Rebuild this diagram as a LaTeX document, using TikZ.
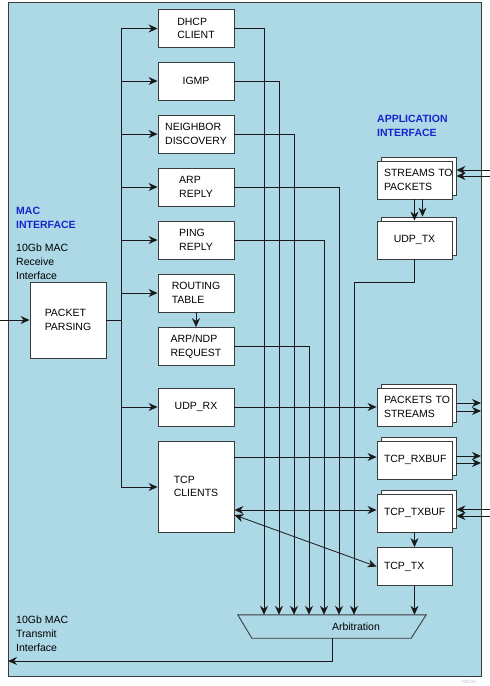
\documentclass[tikz,border=0pt]{standalone}
\usepackage{fontspec}
\setmainfont{Liberation Sans}
\usetikzlibrary{arrows.meta,shadows,calc}
\definecolor{bg}{RGB}{173,216,230}
\definecolor{bordcol}{RGB}{60,60,60}
\definecolor{linecol}{RGB}{25,25,25}
\definecolor{hdrblue}{RGB}{25,35,205}
\definecolor{tagcol}{RGB}{185,195,200}
\begin{document}
\begin{tikzpicture}[x=1pt,y=-1pt,
  font=\fontsize{10.5}{13.5}\selectfont,
  box/.style={draw=bordcol, fill=white, line width=0.9pt, minimum width=76pt, minimum height=38pt, align=left, inner sep=2pt},
  rbox/.style={draw=bordcol, fill=white, line width=0.9pt, minimum width=75pt, minimum height=38pt, text width=61pt, inner xsep=7pt, inner ysep=2pt, align=left},
  stack/.style={copy shadow={shadow xshift=4pt, shadow yshift=4pt, fill=white, draw=bordcol}},
  arr/.style={draw=linecol, line width=0.8pt, -{Stealth[length=9pt,width=8pt,inset=3pt]}},
  dblarr/.style={draw=linecol, line width=0.8pt, {Stealth[length=9pt,width=8pt,inset=3pt]}-{Stealth[length=9pt,width=8pt,inset=3pt]}},
  wire/.style={draw=linecol, line width=0.8pt},
  hdr/.style={font=\fontsize{10.5}{13.8}\selectfont\bfseries, text=hdrblue, align=left, inner sep=0pt, anchor=north west},
  lbl/.style={align=left, inner sep=0pt, anchor=north west, font=\fontsize{10.5}{13.8}\selectfont}
]
\useasboundingbox (0,0) rectangle (490,686);
\node[draw=bordcol, fill=bg, line width=1pt, minimum width=473pt, minimum height=674pt, anchor=north west, inner sep=0pt] (frame) at (8,2) {};

% labels
\node[hdr] (macif) at (16,207) {MAC\\INTERFACE};
\node[lbl] (rxif) at (16,244) {10Gb MAC\\Receive\\Interface};
\node[lbl] (txif) at (16,616) {10Gb MAC\\Transmit\\Interface};
\node[hdr] (appif) at (377,115) {APPLICATION\\INTERFACE};
\node[font=\fontsize{4.5}{5}\selectfont, text=tagcol, anchor=east, inner sep=0pt] (tag) at (476,682) {190010};

% left column
\node[box, minimum height=76pt] (pp) at (68,320) {PACKET\\PARSING};
\node[box] (dhcp) at (196,28.5) {DHCP\\CLIENT};
\node[box] (igmp) at (196,81) {IGMP};
\node[box] (nd) at (196,134) {NEIGHBOR\\DISCOVERY};
\node[box] (arprep) at (196,187) {ARP\\REPLY};
\node[box] (ping) at (196,240) {PING\\REPLY};
\node[box] (route) at (196,293) {ROUTING\\TABLE};
\node[box] (arpndp) at (196,346.5) {ARP/NDP\\REQUEST};
\node[box] (udprx) at (196,407) {UDP\_RX};
\node[box, minimum height=91pt] (tcp) at (196,486.5) {TCP\\CLIENTS};

% right column
\node[rbox, stack] (s2p) at (414.5,180) {\mbox{STREAMS TO}\\PACKETS};
\node[rbox, stack, align=center] (udptx) at (414.5,240) {UDP\_TX};
\node[rbox, stack] (p2s) at (414.5,407) {\mbox{PACKETS TO}\\STREAMS};
\node[rbox, stack] (rxbuf) at (414.5,460) {TCP\_RXBUF};
\node[rbox, stack] (txbuf) at (414.5,513) {TCP\_TXBUF};
\node[rbox] (tcptx) at (414.5,566.5) {TCP\_TX};

% arbitration
\node[minimum width=188pt, minimum height=23pt, inner sep=0pt, label={[xshift=24pt]center:Arbitration}] (arb) at (332,626.5) {};
\draw[draw=bordcol, line width=0.9pt] (arb.north west) -- (arb.north east) -- ([xshift=-15pt]arb.south east) -- ([xshift=14pt]arb.south west) -- cycle;

% input and bus
\coordinate (macin) at (0,320);
\draw[arr] (macin) -- (pp.west);
\coordinate (busT) at (121,28.5);
\coordinate (busB) at (121,487);
\draw[wire] (pp.east) -- (pp.east -| busT);
\draw[wire] (busT) -- (busB);
\foreach \n in {dhcp,igmp,nd,arprep,ping,route,udprx}
  \draw[arr] (\n.west -| busT) -- (\n.west);
\draw[arr] (busB) -- (busB -| tcp.west);
\draw[arr] (route.south) -- (arpndp.north);

% drops to arbitration
\draw[arr] (dhcp.east) -| ([xshift=-68pt]arb.north);
\draw[arr] (igmp.east) -| ([xshift=-53pt]arb.north);
\draw[arr] (nd.east) -| ([xshift=-38pt]arb.north);
\draw[arr] (arpndp.east) -| ([xshift=-23pt]arb.north);
\draw[arr] (ping.east) -| ([xshift=-8pt]arb.north);
\draw[arr] (arprep.east) -| ([xshift=7pt]arb.north);
\draw[arr] (udptx.south) -- ++(0,23) -| ([xshift=22pt]arb.north);
\draw[arr] (txbuf.south) -- (tcptx.north);
\draw[arr] (tcptx.south) -- (tcptx.south |- arb.north);

% output
\coordinate (macout) at (8,661);
\draw[arr] (arb.south) |- (macout);

% right side links
\draw[arr] (udprx.east) -- (p2s.west);
\draw[arr] ([yshift=3pt]tcp.east |- rxbuf.west) -- ([yshift=3pt]rxbuf.west);
\draw[dblarr] ([yshift=3pt]tcp.east |- txbuf.west) -- ([yshift=3pt]txbuf.west);
\draw[dblarr] ([yshift=-28.5pt]tcp.east) -- (tcptx.west);
\draw[arr] (s2p.south) -- (udptx.north);
\draw[arr] ([xshift=8pt]s2p.south) -- ([xshift=8pt,yshift=4pt]udptx.north);

% external application interface
\coordinate (e1) at (490,170);
\coordinate (e2) at (490,176);
\draw[arr] (e1) -- ([xshift=4pt]s2p.east |- e1);
\draw[arr] (e2) -- ([xshift=4pt]s2p.east |- e2);
\coordinate (e3) at (490,509.5);
\coordinate (e4) at (490,516);
\draw[arr] (e3) -- ([xshift=4pt]txbuf.east |- e3);
\draw[arr] (e4) -- ([xshift=4pt]txbuf.east |- e4);
\coordinate (o1) at (481,403);
\coordinate (o2) at (481,411);
\draw[arr] ([xshift=4pt]p2s.east |- o1) -- (o1);
\draw[arr] ([xshift=4pt]p2s.east |- o2) -- (o2);
\coordinate (o3) at (481,456);
\coordinate (o4) at (481,463);
\draw[arr] ([xshift=4pt]rxbuf.east |- o3) -- (o3);
\draw[arr] ([xshift=4pt]rxbuf.east |- o4) -- (o4);
\end{tikzpicture}
\end{document}
